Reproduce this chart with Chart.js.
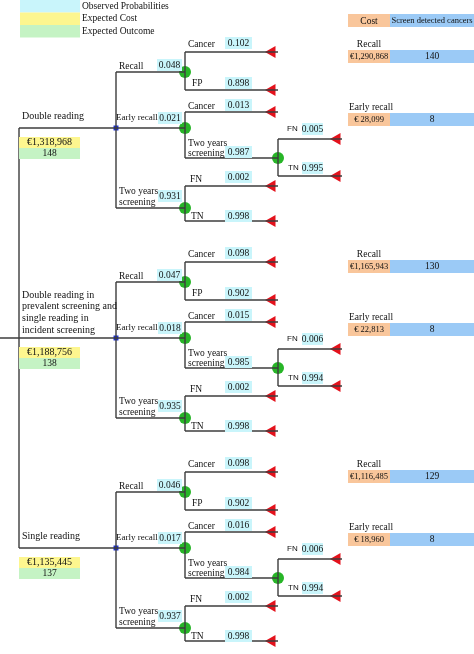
<!DOCTYPE html>
<html><head><meta charset="utf-8">
<script src="https://cdn.jsdelivr.net/npm/chart.js@4/dist/chart.umd.min.js"></script>
<style>html,body{margin:0;padding:0;background:#fff}#w{width:474px;height:654px}</style>
</head><body><div id="w"><canvas id="c"></canvas></div>
<script>
// ---- data ----
const strategies = [["Double reading"], ["Double reading in","prevalent screening and","single reading in","incident screening"], ["Single reading"]];
const expectedCost = ["€1,318,968", "€1,188,756", "€1,135,445"];
const expectedOutcome = ["148", "138", "137"];
const pRecall = ["0.048", "0.047", "0.046"];
const pRecallCancer = ["0.102", "0.098", "0.098"];
const pRecallFP = ["0.898", "0.902", "0.902"];
const pEarly = ["0.021", "0.018", "0.017"];
const pEarlyCancer = ["0.013", "0.015", "0.016"];
const pEarlyTwo = ["0.987", "0.985", "0.984"];
const pEarlyFN = ["0.005", "0.006", "0.006"];
const pEarlyTN = ["0.995", "0.994", "0.994"];
const pTwo = ["0.931", "0.935", "0.937"];
const pTwoFN = ["0.002", "0.002", "0.002"];
const pTwoTN = ["0.998", "0.998", "0.998"];
const recallCost = ["€1,290,868", "€1,165,943", "€1,116,485"];
const recallCancers = ["140", "130", "129"];
const earlyCost = ["€ 28,099", "€ 22,813", "€ 18,960"];
const earlyCancers = ["8", "8", "8"];
const legendItems = ["Observed Probabilities", "Expected Cost", "Expected Outcome"];

// ---- layout ----
const BY = [128, 338, 548];
const X0 = 19, X1 = 116, X2 = 185, X3 = 278, XE = 272, XE2 = 337;
const C = {cyan:'#c9f5fb', yellow:'#fdf68f', green:'#c5f3c4', orange:'#f9c69b', blue:'#9bcaf6', line:'#3d3d3d'};

const segs = [], nodes = [], squares = [], tris = [];
function seg(a,b,c,d){segs.push([{x:a,y:b},{x:c,y:d}]);}
seg(X0, BY[0], X0, BY[2]);
BY.forEach((Y,i)=>{
  seg(i===1?0:X0, Y, X1, Y);
  squares.push({x:X1,y:Y});
  seg(X1, Y-56, X1, Y+80);
  [Y-56, Y, Y+80].forEach(y=>seg(X1,y,X2,y));
  [[Y-76,Y-38,Y-56],[Y-16,Y+30,Y],[Y+58,Y+93,Y+80]].forEach(([a,b,n])=>{
    seg(X2,a,X2,b); nodes.push({x:X2,y:n});
    seg(X2,a,XE+6,a); seg(X2,b,XE+6,b);
  });
  [Y-76,Y-38,Y-16,Y+58,Y+93].forEach(y=>tris.push({x:XE,y:y}));
  nodes.push({x:X3,y:Y+30});
  seg(X3,Y+11,X3,Y+48); seg(X3,Y+11,XE2+5,Y+11); seg(X3,Y+48,XE2+5,Y+48);
  tris.push({x:XE2,y:Y+11}); tris.push({x:XE2,y:Y+48});
});

const datasets = segs.map(s=>({data:s, showLine:true, borderColor:C.line, borderWidth:1.4, pointRadius:0}));
datasets.push({data:nodes, pointStyle:'circle', pointRadius:6, backgroundColor:'#27b527', borderWidth:0});
datasets.push({data:squares, pointStyle:'rect', pointRadius:3.5, backgroundColor:'#1a2fd8', borderWidth:0});
datasets.push({data:tris, pointStyle:'triangle', rotation:-90, pointRadius:7, backgroundColor:'#e3121c', borderWidth:0});

const textPlugin = {id:'txt', afterDatasetsDraw(ch){
  const ctx=ch.ctx, xs=ch.scales.x, ys=ch.scales.y;
  const X=v=>xs.getPixelForValue(v), Y=v=>ys.getPixelForValue(v);
  const SERIF='9.5px "Liberation Serif"', SANS='8px "Liberation Sans"';
  function box(x,y,w,h,col){ctx.fillStyle=col;ctx.fillRect(X(x),Y(y),X(x+w)-X(x),Y(y+h)-Y(y));}
  function t(s,x,y,align,font){ctx.font=font||SERIF;ctx.fillStyle='#111';ctx.textAlign=align||'left';ctx.textBaseline='middle';ctx.fillText(s,X(x),Y(y));}
  function pb(s,x,cy,w){box(x,cy-6,w||27,12,C.cyan);t(s,x+(w||27)/2,cy,'center');}
  [C.cyan,C.yellow,C.green].forEach((c,i)=>{box(20,i*12.5,60,12.5,c);t(legendItems[i],82,6+i*12.5);});
  box(348,14,42,13,C.orange); box(390,14,84,13,C.blue);
  t('Cost',369,21,'center'); t('Screen detected cancers',432,21,'center','8.5px "Liberation Serif"');
  BY.forEach((Yb,i)=>{
    const L=strategies[i];
    const top = L.length===1 ? Yb-12 : Yb-43;
    L.forEach((s,k)=>t(s,22,top+k*11.7,'left','10px "Liberation Serif"'));
    box(X0,Yb+9,61,11,C.yellow); t(expectedCost[i],49.5,Yb+14.5,'center','10px "Liberation Serif"');
    box(X0,Yb+20,61,11,C.green); t(expectedOutcome[i],49.5,Yb+25.5,'center');
    t('Recall',119,Yb-62); pb(pRecall[i],157,Yb-63,25);
    t('Early recall',116,Yb-10,'left','9px "Liberation Serif"'); pb(pEarly[i],158,Yb-10,24);
    t('Two years',119,Yb+63); t('screening',119,Yb+74); pb(pTwo[i],158,Yb+68,24);
    t('Cancer',188,Yb-84); pb(pRecallCancer[i],225,Yb-85);
    t('FP',192,Yb-45); pb(pRecallFP[i],225,Yb-45);
    t('Cancer',188,Yb-22); pb(pEarlyCancer[i],225,Yb-23);
    t('Two years',188,Yb+15); t('screening',188,Yb+25); pb(pEarlyTwo[i],225,Yb+24);
    t('FN',190,Yb+51); pb(pTwoFN[i],225,Yb+49);
    t('TN',191,Yb+88); pb(pTwoTN[i],225,Yb+88);
    t('FN',287,Yb+1,'left',SANS); pb(pEarlyFN[i],302,Yb+1,21);
    t('TN',288,Yb+40,'left',SANS); pb(pEarlyTN[i],302,Yb+40,21);
    t('Recall',369,Yb-84,'center');
    box(348,Yb-78,42,13,C.orange); box(390,Yb-78,84,13,C.blue);
    t(recallCost[i],369,Yb-71.5,'center','8.5px "Liberation Serif"'); t(recallCancers[i],432,Yb-71.5,'center');
    t('Early recall',349,Yb-21);
    box(348,Yb-15,42,13,C.orange); box(390,Yb-15,84,13,C.blue);
    t(earlyCost[i],369,Yb-8.5,'center','8.5px "Liberation Serif"'); t(earlyCancers[i],432,Yb-8.5,'center');
  });
}};

new Chart(document.getElementById('c'),{
  type:'scatter', data:{datasets},
  options:{responsive:true, maintainAspectRatio:false, animation:false,
    layout:{padding:0, autoPadding:false},
    clip:false,
    plugins:{legend:{display:false}, tooltip:{enabled:false}},
    scales:{x:{type:'linear',min:0,max:474,display:false}, y:{type:'linear',min:0,max:654,reverse:true,display:false}}},
  plugins:[textPlugin]
});
</script></body></html>
